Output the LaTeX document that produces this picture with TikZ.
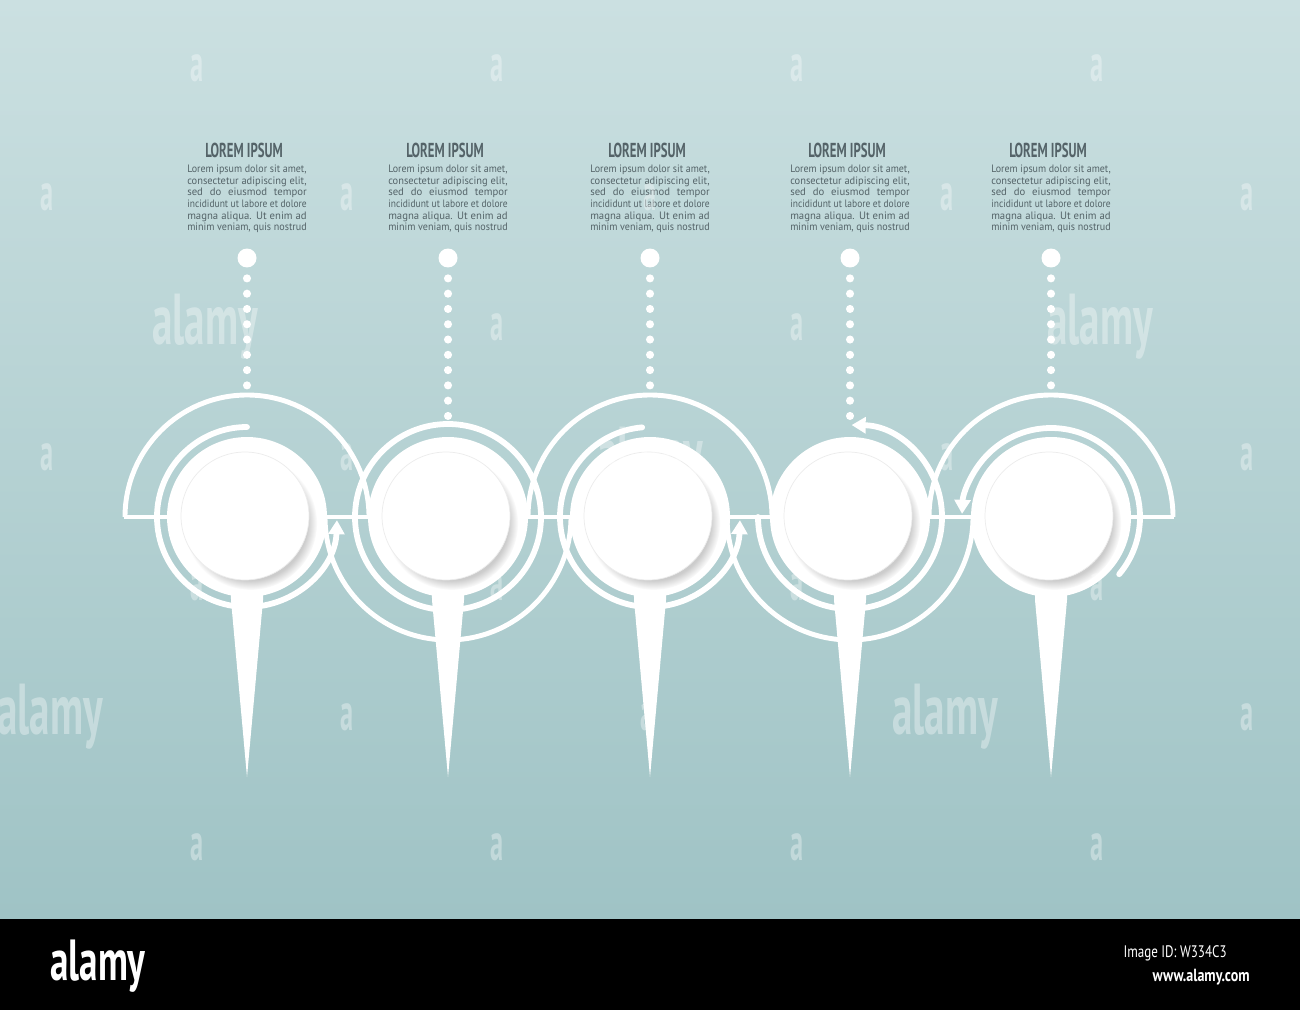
\documentclass[tikz,border=0pt]{standalone}
\usepackage{fontspec}
\usepackage{graphicx}
\setmainfont{PT Sans}
\usetikzlibrary{arrows.meta,shadows}

\definecolor{bgtop}{RGB}{203,224,225}
\definecolor{bgbot}{RGB}{159,195,197}
\definecolor{ink}{RGB}{84,99,104}

% eine Zeile auf volle Breite bringen
\newsavebox{\linebox}
\newcommand{\jline}[1]{\sbox{\linebox}{#1}%
  \ifdim\wd\linebox>68pt \resizebox{68pt}{\height}{\usebox{\linebox}}%
  \else\makebox[68pt][s]{#1}\fi}

\newcommand{\lorembody}{%
  \jline{Lorem ipsum dolor sit amet,}\\
  \jline{consectetur adipiscing elit,}\\
  \jline{sed do eiusmod tempor}\\
  \jline{incididunt ut labore et dolore}\\
  \jline{magna aliqua. Ut enim ad}\\
  \jline{minim veniam, quis nostrud}}

\begin{document}
\begin{tikzpicture}[x=0.02cm,y=0.02cm]
  \tikzset{
    ring/.style = {white, line width=2.8pt},
    loopline/.style = {white, line width=3.3pt, line cap=round},
    tip/.style = {-{Triangle[length=8pt,width=9pt]}},
    pinhead/.style = {circle, fill=white, minimum size=3.2cm, inner sep=0pt},
    face/.style = {circle, fill=white, draw=gray!15, line width=0.4pt,
      minimum size=2.56cm, inner sep=0pt,
      circular drop shadow={shadow xshift=3pt, shadow yshift=-4pt, shadow scale=1.04, opacity=0.4}},
    bigdot/.style = {circle, fill=white, minimum size=0.38cm, inner sep=0pt},
    dotline/.style = {white, line width=4.6pt, line cap=round, dash pattern=on 0pt off 8.7pt},
    title/.style = {text=ink, font=\bfseries\fontsize{11.5}{12}\selectfont},
    body/.style = {text=ink, font=\fontsize{6.1}{6.65}\selectfont, align=center, inner sep=0pt},
    wmark/.style = {text=white, opacity=0.35, inner sep=0pt},
  }
  \useasboundingbox (0,0) rectangle (1300,-1010);

  % Hintergrund
  \shade[top color=bgtop, bottom color=bgbot] (0,0) rectangle (1300,-919);
  \fill[black] (0,-919) rectangle (1300,-1010);

  % Mittelpunkte
  \foreach \i/\cx in {1/247,2/448,3/650,4/850,5/1051}
    \coordinate (c\i) at (\cx,-517);
  \coordinate (west) at (124,-517);
  \coordinate (east) at (1174,-517);

  % Linie und Boegen
  \draw[ring] (west) -- (east);
  \foreach \i in {1,3,5}
    \draw[ring] ([shift={(180:122)}]c\i) arc[start angle=180, end angle=0, radius=122];
  \foreach \i in {2,4}
    \draw[ring] ([shift={(180:123)}]c\i) arc[start angle=180, end angle=360, radius=123];
  \draw[loopline, tip] ([shift={(90:90)}]c1) arc[start angle=90, end angle=358, radius=90];
  \draw[loopline] (c2) circle[radius=93];
  \draw[loopline, tip] ([shift={(95:90)}]c3) arc[start angle=95, end angle=358, radius=90];
  \draw[loopline, tip] ([shift={(180:92)}]c4) arc[start angle=180, end angle=449, radius=92];
  \draw[loopline, tip] ([shift={(-40:89)}]c5) arc[start angle=-40, end angle=178, radius=89];

  % Nadeln
  \foreach \i/\cx in {1/247,2/448,3/650,4/850,5/1051} {
    \fill[white] (\cx-25,-570) .. controls (\cx-16,-586) .. (\cx-16,-600)
      -- (\cx,-777) -- (\cx+16,-600) .. controls (\cx+16,-586) .. (\cx+25,-570) -- cycle;
    \node[pinhead] (p\i) at (c\i) {};
    \node[face] (f\i) at ([shift={(-2,1)}]c\i) {};
  }

  % Punkte und Texte
  \foreach \i/\cx/\ylow in {1/247/386,2/448/417,3/650/386,4/850/417,5/1051/386} {
    \node[bigdot] (d\i) at (\cx,-258) {};
    \coordinate (e\i) at (\cx,-\ylow);
    \draw[dotline, shorten <=6pt] (d\i) -- (e\i);
    \node[title] (h\i) at (\cx-3,-150) {\scalebox{0.63}[1]{LOREM IPSUM}};
    \node[body] (t\i) at (\cx,-199) {\lorembody};
  }

  % Wasserzeichen
  \foreach \x/\y in {197/68,497/68,797/68,1097/68,47/197,347/197,650/197,947/197,1247/197,
      497/327,797/327,47/457,347/457,947/457,1247/457,197/587,497/587,797/587,1097/587,
      347/717,647/717,1247/717,197/847,497/847,797/847,1097/847}
    \node[wmark, font=\bfseries\fontsize{30}{30}\selectfont] (wa\x) at (\x,-\y) {\scalebox{0.5}[1]{a}};
  \foreach \x/\y in {205/327,1100/327,650/460,50/717,945/717}
    \node[wmark, font=\bfseries\fontsize{41}{41}\selectfont] (wb\x) at (\x,-\y) {\scalebox{0.57}[1]{alamy}};

  % Fusszeile
  \node[text=white, anchor=west, inner sep=0pt, font=\bfseries\fontsize{33}{33}\selectfont]
    (logo) at (50,-966) {\scalebox{0.64}[1]{alamy}};
  \node[text=white, anchor=east, inner sep=0pt, font=\fontsize{9.5}{10}\selectfont]
    (imgid) at (1227,-953) {\scalebox{0.78}[1]{Image ID: W334C3}};
  \node[text=white, anchor=east, inner sep=0pt, font=\bfseries\fontsize{10}{10}\selectfont]
    (web) at (1250,-977) {\scalebox{0.8}[1]{www.alamy.com}};
\end{tikzpicture}
\end{document}
